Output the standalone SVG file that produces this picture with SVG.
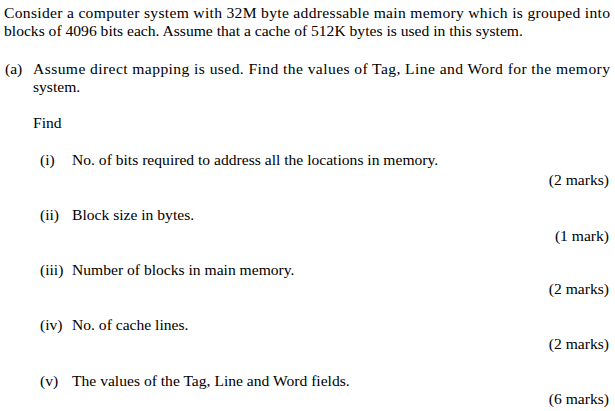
<svg xmlns="http://www.w3.org/2000/svg" width="615" height="411" viewBox="0 0 615 411">
<style>text{font-family:"Liberation Serif","Times New Roman",serif;font-size:15.6px;fill:#000}.r{text-anchor:end}</style>
<rect width="615" height="411" fill="#fff"/>
<text x="4" y="18" textLength="606" lengthAdjust="spacing">Consider a computer system with 32M byte addressable main memory which is grouped into</text>
<text x="4" y="36">blocks of 4096 bits each. Assume that a cache of 512K bytes is used in this system.</text>
<text x="5" y="74">(a)</text>
<text x="33" y="74" textLength="577" lengthAdjust="spacing">Assume direct mapping is used.  Find the values of Tag, Line and Word for the memory</text>
<text x="33" y="92">system.</text>
<text x="33" y="128">Find</text>
<text x="40" y="165">(i)</text><text x="72" y="165">No. of bits required to address all the locations in memory.</text>
<text class="r" x="609" y="185">(2 marks)</text>
<text x="40" y="220">(ii)</text><text x="72" y="220">Block size in bytes.</text>
<text class="r" x="609" y="241">(1 mark)</text>
<text x="40" y="275">(iii)</text><text x="72" y="275">Number of blocks in main memory.</text>
<text class="r" x="609" y="294">(2 marks)</text>
<text x="40" y="330">(iv)</text><text x="72" y="330">No. of cache lines.</text>
<text class="r" x="609" y="349">(2 marks)</text>
<text x="40" y="386">(v)</text><text x="72" y="386">The values of the Tag, Line and Word fields.</text>
<text class="r" x="609" y="404">(6 marks)</text>
</svg>
